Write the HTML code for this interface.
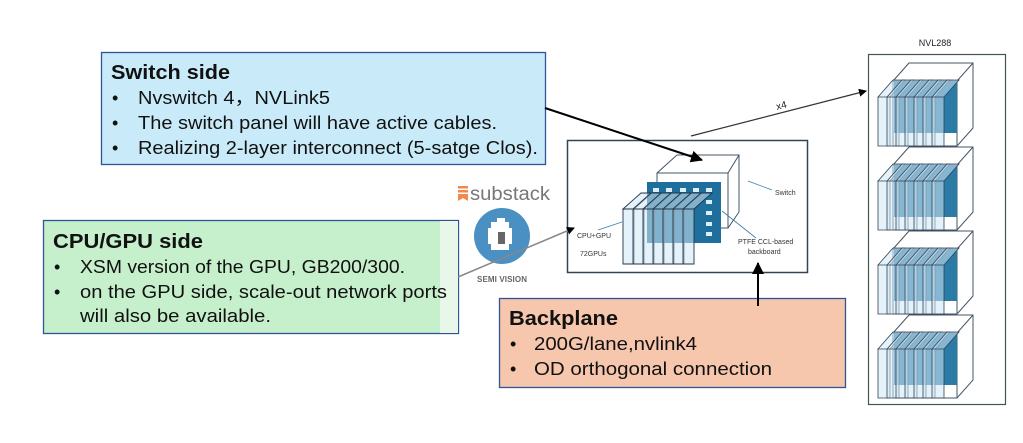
<!DOCTYPE html>
<html><head><meta charset="utf-8"><style>
html,body{margin:0;padding:0;background:#fff;}
svg{display:block;font-family:"Liberation Sans",sans-serif;}
</style></head><body>
<svg width="1023" height="443" viewBox="0 0 1023 443" xmlns="http://www.w3.org/2000/svg">
<defs>
<marker id="ah" markerWidth="8" markerHeight="8" refX="7" refY="4" orient="auto" markerUnits="userSpaceOnUse"><path d="M0,0 L8,4 L0,8 z" fill="#000"/></marker>
<marker id="ah2" markerWidth="12" markerHeight="12" refX="11" refY="6" orient="auto" markerUnits="userSpaceOnUse"><path d="M0,0 L12,6 L0,12 z" fill="#000"/></marker>
<g id="mod">
  <path d="M31,0 H95 V65 L79,83 H15 V18 Z M15,18 L31,0 M15,18 H79 L95,0 M79,18 V83" fill="#fff" stroke="#456" stroke-width="1"/>
  <rect x="16" y="18" width="63" height="52" fill="#2a7ba6"/>
  <g fill="#cfe8f5" fill-opacity="0.55" stroke="#345" stroke-width="0.8">
    <path d="M0,34 h12 v49 h-12z M0,34 l15,-17 h12 l-15,17z"/>
    <path d="M9,34 h12 v49 h-12z M9,34 l15,-17 h12 l-15,17z"/>
    <path d="M18,34 h12 v49 h-12z M18,34 l15,-17 h12 l-15,17z"/>
    <path d="M27,34 h12 v49 h-12z M27,34 l15,-17 h12 l-15,17z"/>
    <path d="M36,34 h12 v49 h-12z M36,34 l15,-17 h12 l-15,17z"/>
    <path d="M45,34 h12 v49 h-12z M45,34 l15,-17 h12 l-15,17z"/>
    <path d="M54,34 h12 v49 h-12z M54,34 l15,-17 h12 l-15,17z"/>
  </g>
</g>
</defs>

<text x="935" y="46" font-size="9" text-anchor="middle" fill="#222">NVL288</text>
<rect x="868.5" y="54.5" width="137" height="350" fill="#fff" stroke="#455" stroke-width="1.2"/>
<use href="#mod" x="878" y="63"/>
<use href="#mod" x="878" y="147"/>
<use href="#mod" x="878" y="231"/>
<use href="#mod" x="878" y="315"/>

<line x1="691" y1="136" x2="866" y2="91" stroke="#333" stroke-width="1.2" marker-end="url(#ah)"/>
<text x="777" y="110" font-size="10" fill="#222" transform="rotate(-14 777 110)">x4</text>

<rect x="567.5" y="140.5" width="240" height="132" fill="#fff" stroke="#345" stroke-width="1.5"/>
<path d="M677,155 H739 V212 L728,228 H657 V173 Z M657,173 L677,155 M657,173 H728 L739,155 M728,173 V228" fill="#fff" stroke="#456" stroke-width="1"/>
<rect x="647" y="182" width="74" height="61" fill="#1f6f9c"/>
<g fill="#dbeef8">
  <rect x="653" y="188" width="6" height="4"/><rect x="666" y="188" width="6" height="4"/><rect x="680" y="188" width="6" height="4"/><rect x="693" y="188" width="6" height="4"/><rect x="706" y="188" width="6" height="4"/>
  <rect x="706" y="200" width="6" height="4"/><rect x="706" y="211" width="6" height="4"/><rect x="706" y="222" width="6" height="4"/><rect x="706" y="232" width="6" height="4"/>
</g>
<g fill="#cfe8f5" fill-opacity="0.55" stroke="#234" stroke-width="0.9">
  <path d="M623,209 h11 v55 h-11z M623,209 l18,-16 h11 l-18,16z"/>
  <path d="M633,209 h11 v55 h-11z M633,209 l18,-16 h11 l-18,16z"/>
  <path d="M643,209 h11 v55 h-11z M643,209 l18,-16 h11 l-18,16z"/>
  <path d="M653,209 h11 v55 h-11z M653,209 l18,-16 h11 l-18,16z"/>
  <path d="M663,209 h11 v55 h-11z M663,209 l18,-16 h11 l-18,16z"/>
  <path d="M673,209 h11 v55 h-11z M673,209 l18,-16 h11 l-18,16z"/>
  <path d="M683,209 h11 v55 h-11z M683,209 l18,-16 h11 l-18,16z"/>
</g>
<line x1="598" y1="230" x2="622" y2="222" stroke="#3a7ea8" stroke-width="0.8"/>
<line x1="748" y1="181" x2="772" y2="190" stroke="#3a7ea8" stroke-width="0.8"/>
<line x1="722" y1="211" x2="756" y2="238" stroke="#3a7ea8" stroke-width="0.8"/>
<text x="775" y="195" font-size="7" fill="#333">Switch</text>
<text x="577" y="238" font-size="7" fill="#333">CPU+GPU</text>
<text x="580" y="256" font-size="7" fill="#333">72GPUs</text>
<text x="738" y="244" font-size="7" fill="#333">PTFE CCL-based</text>
<text x="748" y="254" font-size="7" fill="#333">backboard</text>

<g fill="#f08a4b"><rect x="458" y="186" width="10" height="2.5"/><rect x="458" y="190" width="10" height="2.5"/><path d="M458,194 h10 v7 l-5,-3 l-5,3z"/></g>
<text x="470" y="200" font-size="19" fill="#777" textLength="80" lengthAdjust="spacingAndGlyphs">substack</text>
<circle cx="502" cy="236" r="28" fill="#4a90c2"/>
<path d="M497,218 h8 v4 h4 v6 h3 v16 h-3 v6 h-18 v-6 h-3 v-16 h3 v-6 h6z" fill="#fff"/>
<path d="M498,232 h7 v12 h-7z" fill="#666"/>
<text x="477" y="282" font-size="8" font-weight="bold" fill="#666" textLength="50">SEMI VISION</text>

<rect x="101.5" y="52.5" width="444" height="112" fill="#c9ebf9" stroke="#2f5597" stroke-width="1.3"/>
<text x="111" y="79" font-size="20" font-weight="bold" fill="#111" textLength="119" lengthAdjust="spacingAndGlyphs">Switch side</text>
<g font-size="18" fill="#111">
<text x="112" y="104">•</text><text x="138" y="104" textLength="192" lengthAdjust="spacingAndGlyphs">Nvswitch 4，NVLink5</text>
<text x="112" y="129">•</text><text x="138" y="129" textLength="359" lengthAdjust="spacingAndGlyphs">The switch panel will have active cables.</text>
<text x="112" y="154">•</text><text x="138" y="154" textLength="400" lengthAdjust="spacingAndGlyphs">Realizing 2-layer interconnect (5-satge Clos).</text>
</g>
<line x1="545" y1="108" x2="702" y2="160" stroke="#000" stroke-width="2" marker-end="url(#ah2)"/>

<rect x="43.5" y="220.5" width="415" height="113" fill="#c6efcb" stroke="#2f5597" stroke-width="1.3"/>
<rect x="440" y="221" width="18" height="112" fill="#e8f7ea"/>
<text x="53" y="248" font-size="20" font-weight="bold" fill="#111" textLength="150" lengthAdjust="spacingAndGlyphs">CPU/GPU side</text>
<g font-size="18" fill="#111">
<text x="54" y="273">•</text><text x="80" y="273" textLength="325" lengthAdjust="spacingAndGlyphs">XSM version of the GPU, GB200/300.</text>
<text x="54" y="298">•</text><text x="80" y="298" textLength="367" lengthAdjust="spacingAndGlyphs">on the GPU side, scale-out network ports</text>
<text x="80" y="322" textLength="191" lengthAdjust="spacingAndGlyphs">will also be available.</text>
</g>
<line x1="458" y1="277" x2="574" y2="228" stroke="#888" stroke-width="1.5" marker-end="url(#ah)"/>

<rect x="499.5" y="298.5" width="346" height="89" fill="#f6c6ad" stroke="#2f5597" stroke-width="1.3"/>
<text x="509" y="325" font-size="20" font-weight="bold" fill="#111" textLength="109" lengthAdjust="spacingAndGlyphs">Backplane</text>
<g font-size="18" fill="#111">
<text x="510" y="350">•</text><text x="534" y="350" textLength="163" lengthAdjust="spacingAndGlyphs">200G/lane,nvlink4</text>
<text x="510" y="375">•</text><text x="534" y="375" textLength="238" lengthAdjust="spacingAndGlyphs">OD orthogonal connection</text>
</g>
<line x1="758" y1="306" x2="758" y2="263" stroke="#000" stroke-width="2" marker-end="url(#ah2)"/>
</svg>
</body></html>
